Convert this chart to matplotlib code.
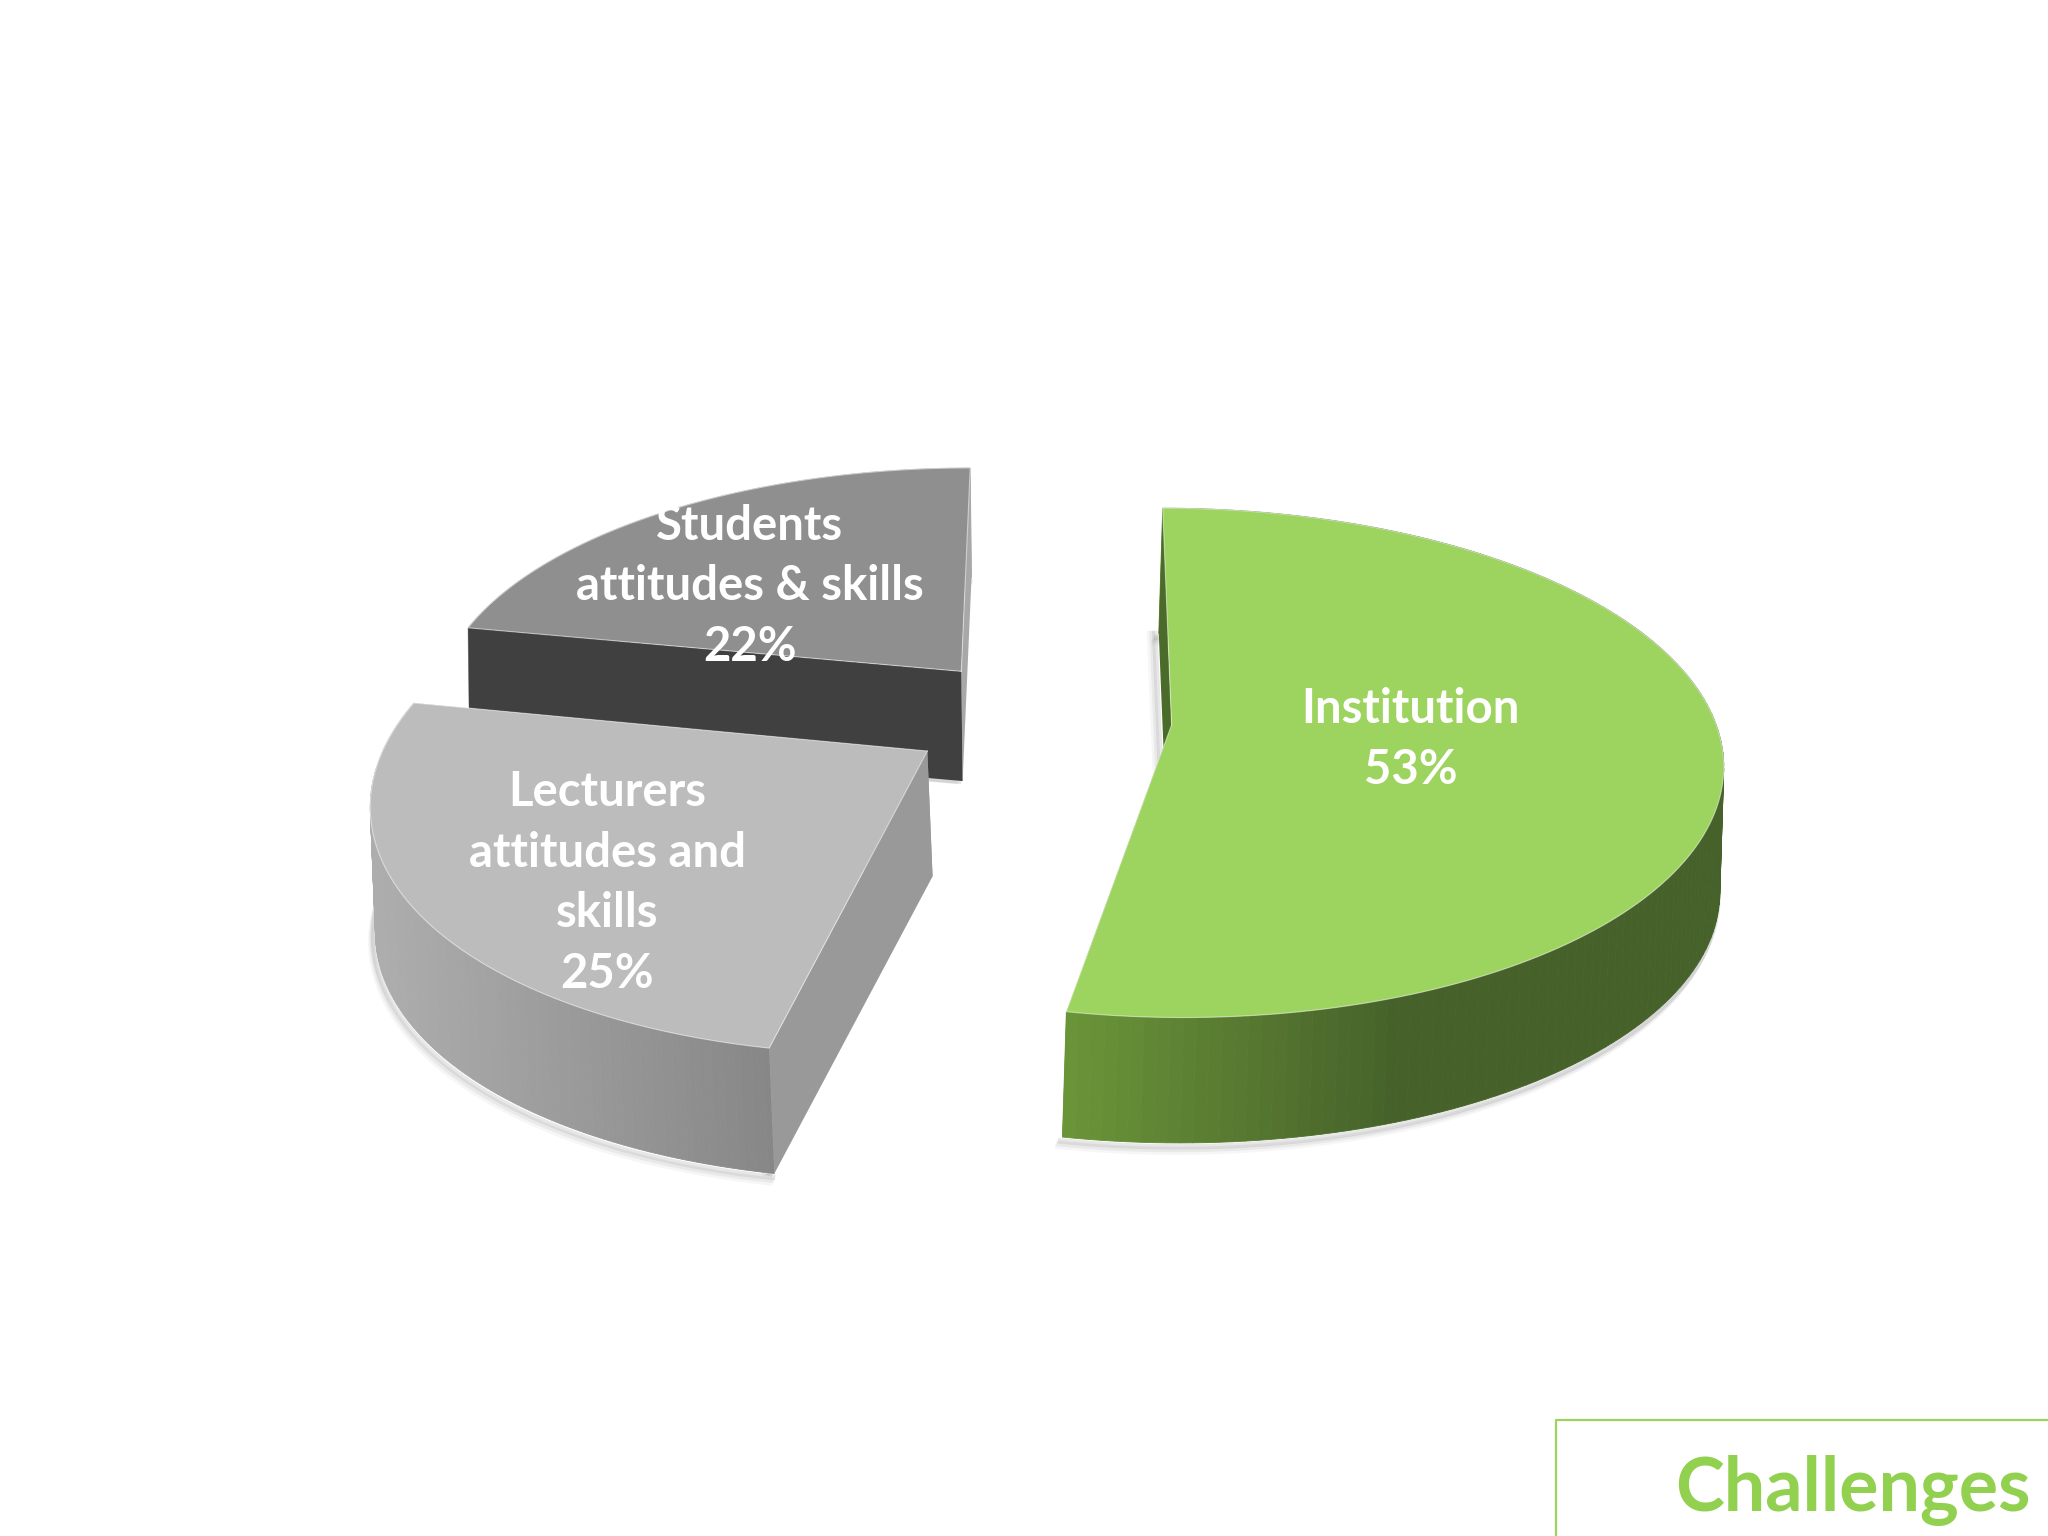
import numpy as np
import matplotlib.pyplot as plt
from matplotlib.colors import to_rgb

labels = ['Institution\n53%', 'Lecturers\nattitudes and\nskills\n25%', 'Students\nattitudes & skills\n22%']
values = [53, 25, 22]
footer = 'Challenges'

# coordinates below were measured on a 1568 wide view of the slide
plt.rcParams['font.family'] = ['Lato', 'DejaVu Sans']

# apex, rx, ry, shear of the front axis, depth vector
views = [
    dict(apex=(897, 555), rx=417, ry=195, shear=8, depth=(-3, 96), grad=(815, 1070),
         top='#9dd45f', wall=('#6c9639', '#46622a'), inner='#4a6b2a', side='#4a6b2a', label=(1080, 566)),
    dict(apex=(710, 575), rx=417, ry=202, shear=-28, depth=(4, 96), grad=(290, 590),
         top='#bcbcbc', wall=('#adadad', '#878787'), inner='#999999', side='#999999', label=(465, 676)),
    dict(apex=(736, 514), rx=397, ry=183, shear=-8, depth=(1, 84), grad=(359, 743),
         top='#8f8f8f', wall=('#a8a8a8', '#a8a8a8'), inner='#404040', side='#a8a8a8', label=(574, 449)),
]
persp = 0.149

fig = plt.figure(figsize=(20.48, 15.36), dpi=100)
ax = fig.add_axes([0, 0, 1, 1])
ax.set_xlim(0, 1568)
ax.set_ylim(1176, 0)
ax.axis('off')


def project(view, theta):
    u = np.sin(theta)
    v = -np.cos(theta)
    f = 1 + persp * v
    x = view['apex'][0] + (view['rx'] * u + view['shear'] * v) * f
    y = view['apex'][1] + view['ry'] * v * f
    return x, y


shares = np.array(values) / sum(values) * 2 * np.pi
starts = np.concatenate([[0], np.cumsum(shares)[:-1]])
order = [2, 1, 0]  # back to front

for i in order:
    view = views[i]
    dx, dy = view['depth']
    theta = np.linspace(starts[i], starts[i] + shares[i], 160)
    x, y = project(view, theta)
    ax0, ay0 = view['apex']
    z = i * -3

    # soft shadow under the wall
    for off, al in [(7, 0.05), (5, 0.08), (3, 0.14)]:
        ax.plot(x + dx - off / 2, y + dy + off, color='#555555', alpha=al, lw=4, zorder=z + 1)
        ax.plot([ax0 + dx - off, x[0] + dx - off], [ay0 + dy, y[0] + dy], color='#555555',
                alpha=al, lw=4, zorder=z + 1)

    # flat wall at the end of the arc goes under the bands
    ax.fill([ax0, x[-1], x[-1] + dx, ax0 + dx], [ay0, y[-1], y[-1] + dy, ay0 + dy],
            color=view['side'], lw=0, zorder=z + 2)

    # outer wall in small bands for the gradient
    c0 = np.array(to_rgb(view['wall'][0]))
    c1 = np.array(to_rgb(view['wall'][1]))
    for k in range(len(x) - 1):
        t = np.clip((x[k] - view['grad'][0]) / (view['grad'][1] - view['grad'][0]), 0, 1)
        col = c0 + (c1 - c0) * t
        ax.fill([x[k], x[k + 1], x[k + 1] + dx, x[k] + dx],
                [y[k], y[k + 1], y[k + 1] + dy, y[k] + dy],
                color=col, lw=0.6, ec=col, zorder=z + 2)

    # flat wall at the start of the arc
    ax.fill([ax0, x[0], x[0] + dx, ax0 + dx], [ay0, y[0], y[0] + dy, ay0 + dy],
            color=view['inner'], lw=0, zorder=z + 2)

    # top face
    ax.fill(np.r_[ax0, x], np.r_[ay0, y], color=view['top'], lw=0, zorder=z + 3)
    ax.plot(np.r_[ax0, x, ax0], np.r_[ay0, y, ay0], color='white', alpha=0.5, lw=0.8, zorder=z + 3)
    ax.text(view['label'][0], view['label'][1], labels[i], color='white', fontsize=34,
            fontweight='bold', ha='center', va='center', linespacing=1.46, zorder=5)

# footer box of the slide
ax.plot([1568, 1191.5, 1191.5], [1087, 1087, 1176], color='#9dd45f', lw=1.6)
ax.text(1555, 1141, footer, color='#92d050', fontsize=53, fontweight='bold', ha='right', va='center')

plt.savefig('out.png', dpi=100)
